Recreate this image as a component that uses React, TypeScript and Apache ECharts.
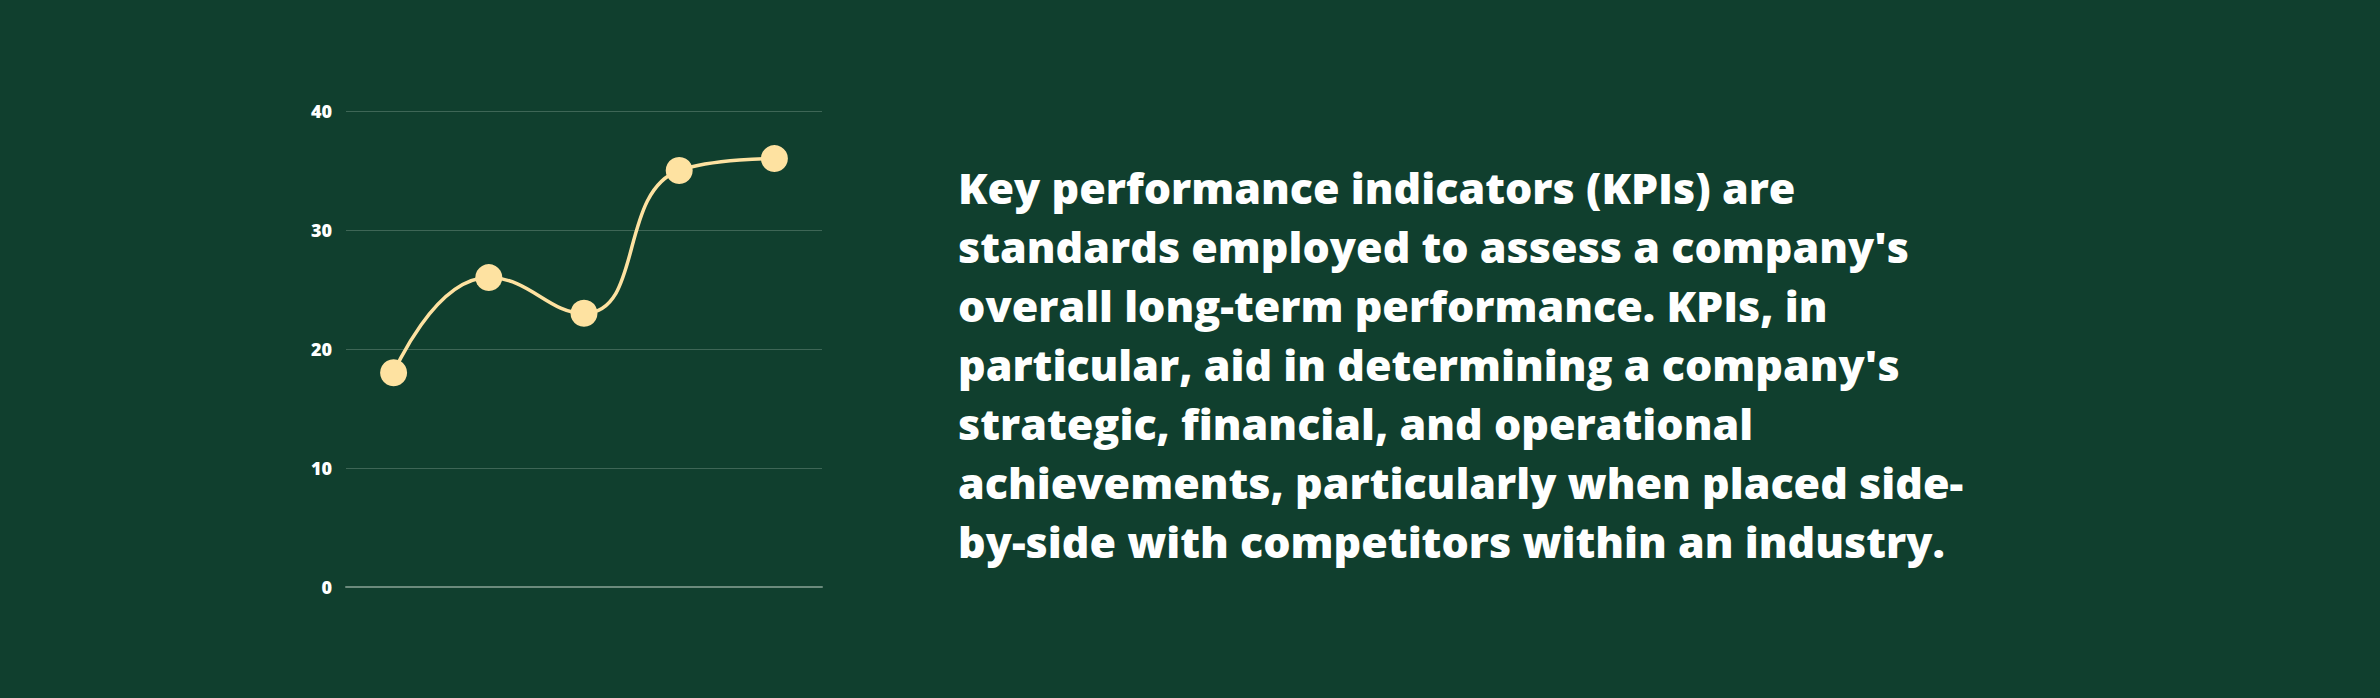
import React, { useEffect, useRef } from "react";
import * as echarts from "echarts";

// chart values
const categories = ["A", "B", "C", "D", "E"];
const values = [18, 26, 23, 35, 36];
const yTicks = { min: 0, max: 40, interval: 10 };

const paragraphLines = [
  "Key performance indicators (KPIs) are",
  "standards employed to assess a company's",
  "overall long-term performance. KPIs, in",
  "particular, aid in determining a company's",
  "strategic, financial, and operational",
  "achievements, particularly when placed side-",
  "by-side with competitors within an industry.",
];

const BG = "#103F2E";
const CREAM = "#FEE2A1";

const App: React.FC = () => {
  const chartRef = useRef<HTMLDivElement>(null);

  useEffect(() => {
    const chart = echarts.init(chartRef.current!, undefined, { renderer: "svg" });

    chart.setOption({
      animation: false,
      backgroundColor: BG,
      grid: { left: 346, top: 111, width: 476, height: 476 },
      xAxis: {
        type: "category",
        data: categories,
        boundaryGap: true,
        axisLine: { show: true, lineStyle: { color: "#6B8A7C", width: 2 } },
        axisTick: { show: false },
        axisLabel: { show: false },
      },
      yAxis: {
        type: "value",
        min: yTicks.min,
        max: yTicks.max,
        interval: yTicks.interval,
        axisLine: { show: false },
        axisTick: { show: false },
        axisLabel: {
          color: "#FFFFFF",
          fontFamily: "Open Sans",
          fontWeight: 800,
          fontSize: 18,
          margin: 14,
        },
        splitLine: { lineStyle: { color: "#3E6656", width: 1 } },
      },
      series: [
        {
          type: "line",
          data: values,
          smooth: true,
          symbol: "circle",
          symbolSize: 27,
          lineStyle: { color: CREAM, width: 3.5 },
          itemStyle: { color: CREAM },
        },
      ],
      graphic: [
        {
          type: "text",
          left: 958,
          top: 158,
          style: {
            text: paragraphLines.join("\n"),
            fill: "#FFFFFF",
            fontFamily: "Open Sans",
            fontWeight: 800,
            fontSize: 43,
            lineHeight: 59,
          },
        },
      ],
    });

    return () => {
      chart.dispose();
    };
  }, []);

  return (
    <div
      ref={chartRef}
      style={{ position: "absolute", left: 0, top: 0, width: 2380, height: 698 }}
    />
  );
};

export default App;
